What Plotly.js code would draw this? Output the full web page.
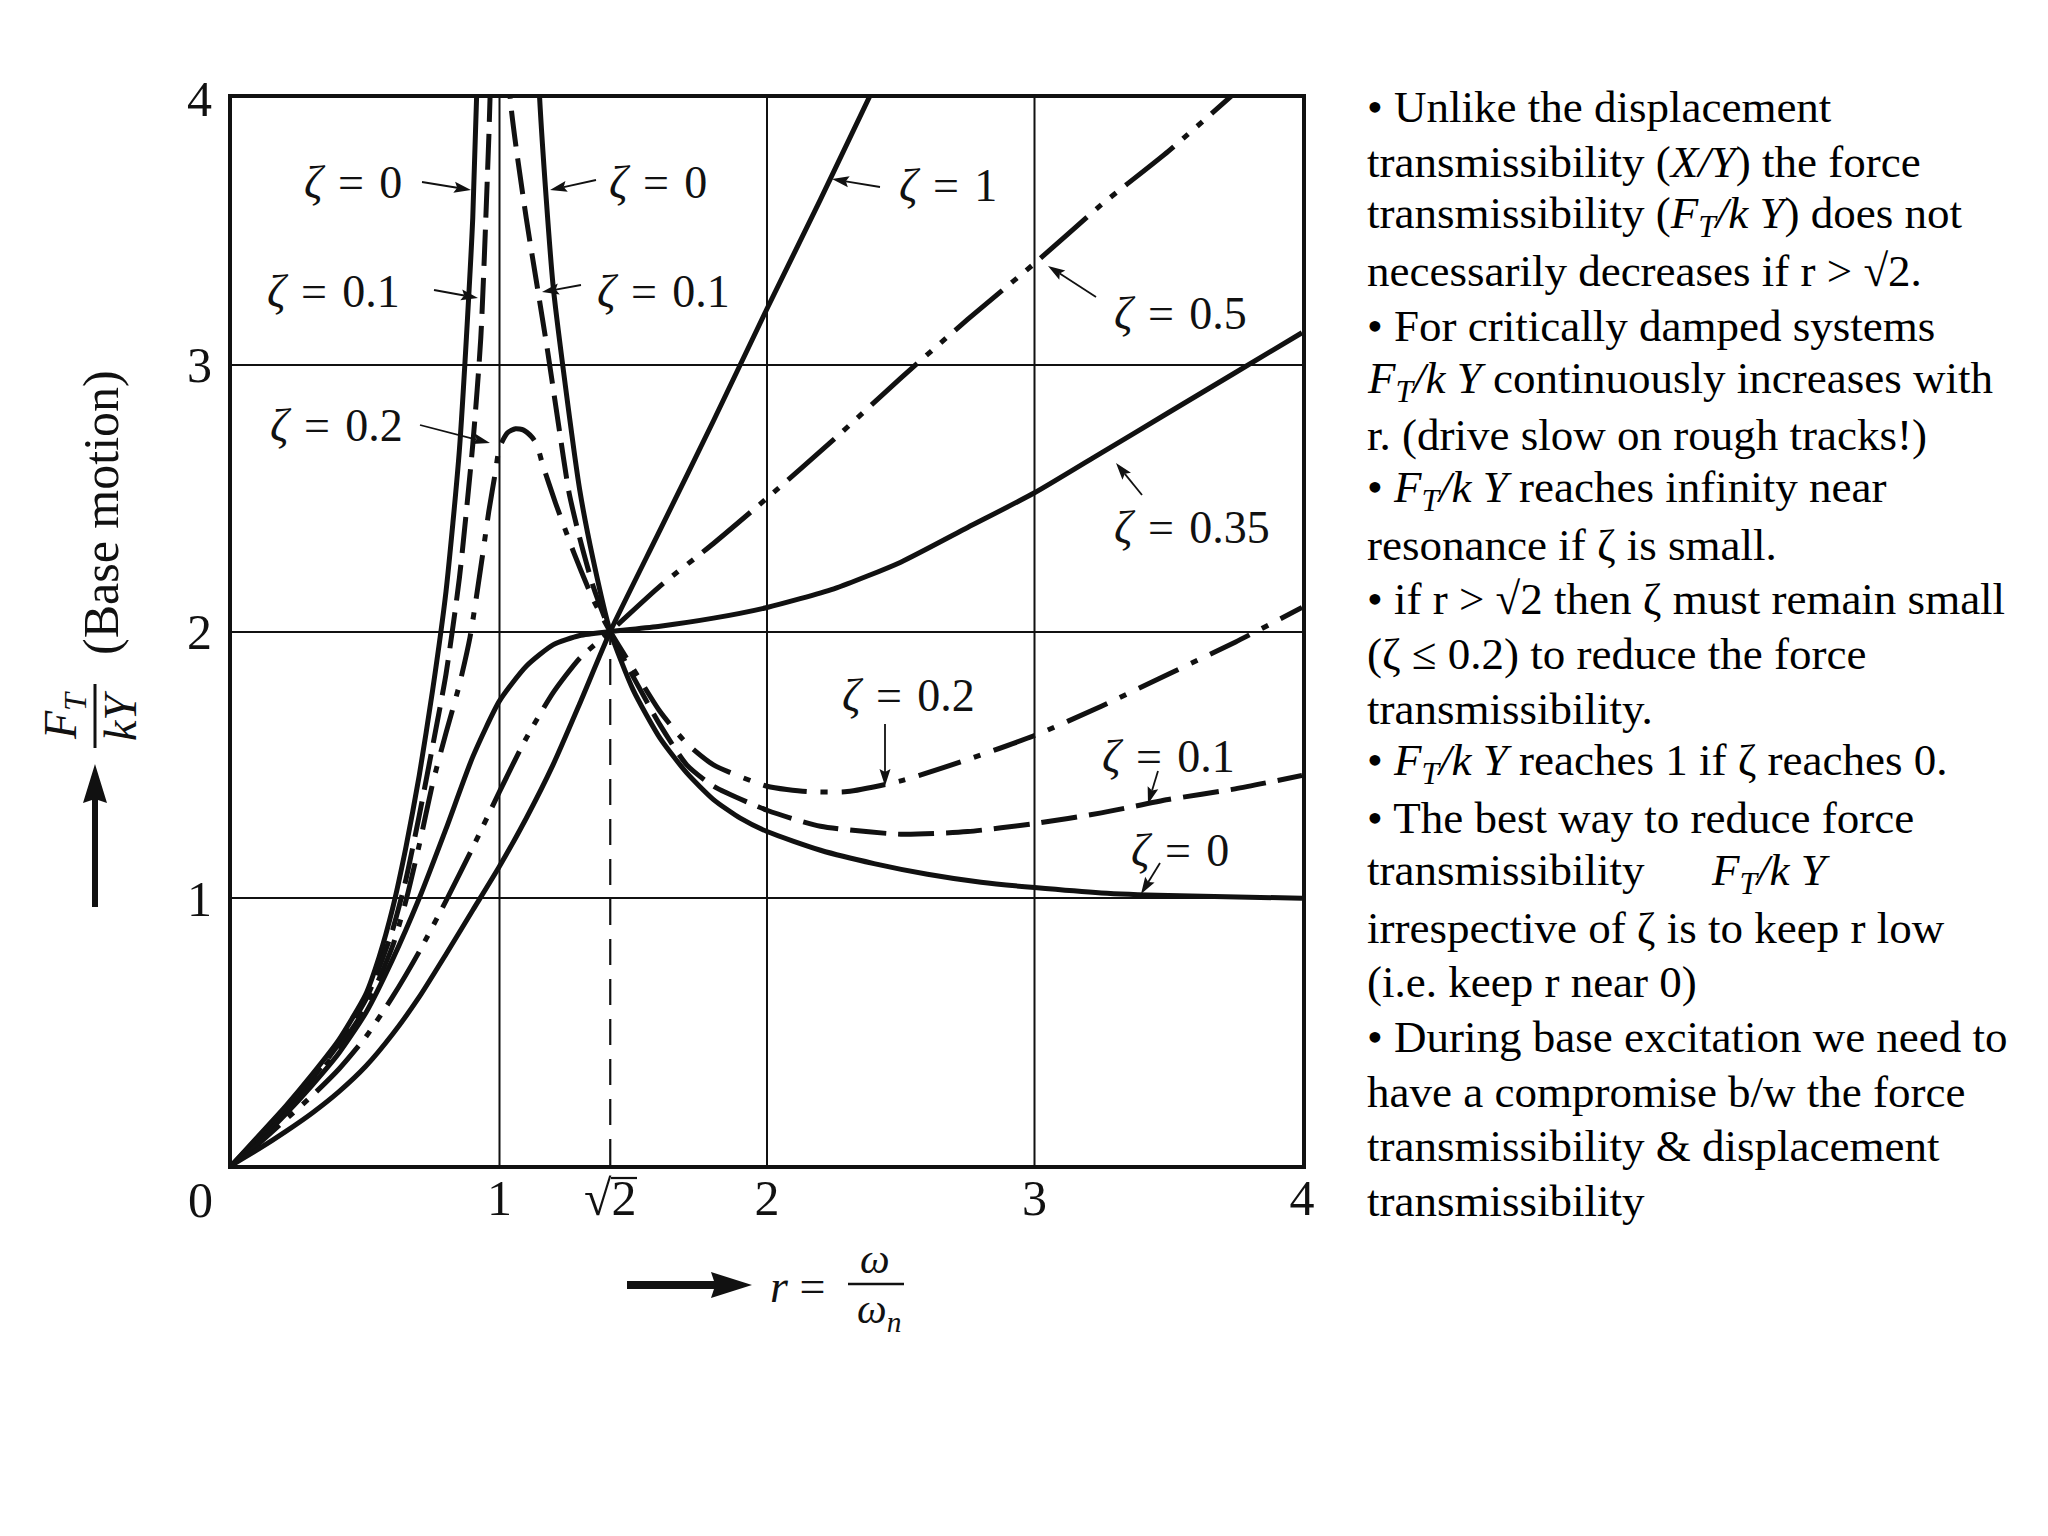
<!DOCTYPE html>
<html>
<head>
<meta charset="utf-8">
<script src="https://cdn.plot.ly/plotly-3.0.1.min.js"></script>
<style>html,body{margin:0;padding:0;background:#ffffff;}</style>
</head>
<body>
<div id="chart" style="width:2048px;height:1536px;"></div>
<script>
// ---------- data ----------
const zeta0_r  = [0, 0.1, 0.2, 0.3, 0.4, 0.5, 0.55, 0.6, 0.65, 0.7, 0.75, 0.8, 0.85, 0.9, 0.93, 0.95,
                  null,
                  1.08, 1.15, 1.2, 1.24, 1.3, 1.35, 1.414, 1.5, 1.6, 1.7, 1.8, 1.9, 2.0, 2.2, 2.4, 2.6, 2.8,
                  3.0, 3.25, 3.5, 4.0];
const zeta0_y  = [0, 0.11, 0.22, 0.34, 0.47, 0.64, 0.78, 0.96, 1.19, 1.46, 1.78, 2.15, 2.68, 3.55, 4.6, 6.0,
                  null,
                  6.0, 4.0, 3.3, 2.97, 2.53, 2.27, 2.0, 1.78, 1.6, 1.47, 1.37, 1.3, 1.25, 1.18, 1.13, 1.09, 1.06,
                  1.04, 1.02, 1.01, 1.0];

const zeta01_r = [0, 0.1, 0.2, 0.3, 0.4, 0.5, 0.55, 0.6, 0.65, 0.7, 0.75, 0.8, 0.85, 0.9, 0.93, 0.96, 1.0,
                  1.04, 1.1, 1.14, 1.18, 1.22, 1.26, 1.3, 1.35, 1.414, 1.5, 1.6, 1.7, 1.8, 2.0, 2.2, 2.5, 2.75,
                  3.0, 3.25, 3.5, 3.75, 4.0];
const zeta01_y = [0, 0.105, 0.21, 0.325, 0.455, 0.62, 0.74, 0.88, 1.07, 1.31, 1.57, 1.84, 2.2, 2.7, 3.1, 3.85, 5.1,
                  4.0, 3.55, 3.3, 3.05, 2.78, 2.52, 2.35, 2.17, 2.0, 1.83, 1.65, 1.5, 1.42, 1.33, 1.27, 1.24, 1.25,
                  1.28, 1.32, 1.37, 1.41, 1.46];

const zeta02_r = [0, 0.1, 0.2, 0.3, 0.4, 0.5, 0.6, 0.65, 0.7, 0.75, 0.8, 0.85, 0.89, 0.93, 0.96, 0.985, 1.0,
                  1.03, 1.06, 1.09, 1.12, 1.14, 1.16, 1.21, 1.28, 1.35, 1.414, 1.5, 1.6, 1.7, 1.8, 2.0, 2.15,
                  2.3, 2.5, 2.75, 3.0, 3.25, 3.5, 3.75, 4.0];
const zeta02_y = [0, 0.1, 0.2, 0.31, 0.44, 0.59, 0.82, 0.99, 1.2, 1.43, 1.62, 1.8, 1.98, 2.24, 2.45, 2.6, 2.69,
                  2.745, 2.76, 2.755, 2.73, 2.7, 2.63, 2.48, 2.29, 2.12, 2.0, 1.86, 1.7, 1.58, 1.5, 1.42, 1.4,
                  1.4, 1.44, 1.52, 1.61, 1.72, 1.84, 1.96, 2.09];

const zeta035_r = [0, 0.1, 0.2, 0.3, 0.4, 0.5, 0.6, 0.7, 0.8, 0.9, 1.0, 1.1, 1.2, 1.3, 1.414, 1.6, 1.8, 2.0,
                   2.25, 2.5, 2.75, 3.0, 3.25, 3.5, 3.75, 4.0];
const zeta035_y = [0, 0.09, 0.19, 0.3, 0.42, 0.57, 0.77, 1.0, 1.26, 1.53, 1.74, 1.87, 1.95, 1.985, 2.0, 2.02,
                   2.05, 2.09, 2.16, 2.26, 2.39, 2.52, 2.67, 2.82, 2.97, 3.12];

const zeta05_r = [0, 0.1, 0.2, 0.3, 0.4, 0.5, 0.6, 0.7, 0.8, 0.9, 1.0, 1.1, 1.2, 1.3, 1.414, 1.6, 1.8, 2.0,
                  2.25, 2.5, 2.75, 3.0, 3.25, 3.5, 3.75];
const zeta05_y = [0, 0.08, 0.17, 0.26, 0.36, 0.48, 0.63, 0.8, 0.99, 1.19, 1.4, 1.6, 1.77, 1.9, 2.0, 2.17,
                  2.33, 2.5, 2.72, 2.95, 3.17, 3.38, 3.6, 3.8, 4.02];

const zeta1_r = [0, 0.1, 0.2, 0.3, 0.4, 0.5, 0.6, 0.7, 0.8, 0.9, 1.0, 1.1, 1.2, 1.3, 1.414, 1.6, 1.8, 2.0, 2.2, 2.4];
const zeta1_y = [0, 0.06, 0.125, 0.195, 0.275, 0.37, 0.49, 0.63, 0.79, 0.955, 1.12, 1.3, 1.5, 1.73, 2.0, 2.38,
                 2.79, 3.21, 3.62, 4.04];

const sqrt2Line_r = [1.414, 1.414];
const sqrt2Line_y = [0, 2];

const xTickVals = [1, 1.414, 2, 3, 4];
const xTickText = ['1', '√2', '2', '3', '4'];
const yTickVals = [1, 2, 3, 4];
const yTickText = ['1', '2', '3', '4'];
const xGridVals = [1, 2, 3];

// curve labels (ζ values), as placed in the picture
const curveLabels = ['0', '0', '0.1', '0.1', '0.2', '1', '0.5', '0.35', '0.2', '0.1', '0'];

const notes = [
  '• Unlike the displacement',
  'transmissibility (<i>X/Y</i>) the force',
  'transmissibility (<i>F<sub>T</sub>/k Y</i>) does not',
  'necessarily decreases if r > √2.',
  '• For critically damped systems',
  '<i>F<sub>T</sub>/k Y</i> continuously increases with',
  'r. (drive slow on rough tracks!)',
  '• <i>F<sub>T</sub>/k Y</i> reaches infinity near',
  'resonance if ζ is small.',
  '• if r > √2 then ζ must remain small',
  '(ζ ≤ 0.2) to reduce the force',
  'transmissibility.',
  '• <i>F<sub>T</sub>/k Y</i> reaches 1 if ζ reaches 0.',
  '• The best way to reduce force',
  'transmissibility\u00a0\u00a0\u00a0\u00a0\u00a0 <i>F<sub>T</sub>/k Y</i>',
  'irrespective of ζ is to keep r low',
  '(i.e. keep r near 0)',
  '• During base excitation we need to',
  'have a compromise b/w the force',
  'transmissibility & displacement',
  'transmissibility'
];

// ---------- layout helpers (pixel -> paper) ----------
const L = 232, R = 1302, T = 98, B = 1165;
const PX = X => (X - L) / (R - L);
const PY = Y => (B - Y) / (B - T);
const P = (X, Y) => PX(X).toFixed(5) + ',' + PY(Y).toFixed(5);
const FONT = '"Liberation Serif", "Times New Roman", serif';
const INK = '#111111';

function curve(r, y, dash) {
  return {
    x: r, y: y, type: 'scatter', mode: 'lines', hoverinfo: 'skip', connectgaps: false,
    line: {color: INK, width: 5, dash: dash, shape: 'spline', smoothing: 0.6}
  };
}

const traces = [
  curve(zeta0_r, zeta0_y, 'solid'),
  curve(zeta01_r, zeta01_y, '36px,12px'),
  curve(zeta02_r, zeta02_y, '44px,14px,7px,14px'),
  curve(zeta035_r, zeta035_y, 'solid'),
  curve(zeta05_r, zeta05_y, '62px,12px,7px,12px,7px,12px'),
  curve(zeta1_r, zeta1_y, 'solid'),
  {x: sqrt2Line_r, y: sqrt2Line_y, type: 'scatter', mode: 'lines', hoverinfo: 'skip',
   line: {color: INK, width: 2.2, dash: '26px,14px'}}
];

// label placement: [text centre X, Y, arrow tail X, Y, arrow tip X, Y]
const labelPos = [
  [353, 183, 422, 182, 471, 190],
  [658, 183, 596, 180, 550, 190],
  [333, 292, 434, 290, 478, 298],
  [663, 292, 581, 285, 542, 292],
  [336, 425, 420, 425, 490, 443],
  [948, 185, 880, 187, 832, 179],
  [1180, 313, 1096, 297, 1048, 266],
  [1192, 527, 1142, 495, 1116, 463],
  [908, 695, 885, 724, 885, 786],
  [1168, 757, 1158, 771, 1148, 804],
  [1180, 850, 1160, 863, 1141, 894]
];

const annotations = [];
const shapes = [];

curveLabels.forEach((z, i) => {
  const p = labelPos[i];
  annotations.push({
    xref: 'paper', yref: 'paper', x: PX(p[0]), y: PY(p[1]), xanchor: 'center', yanchor: 'middle',
    text: '<i>ζ</i>\u2004=\u2004' + z, showarrow: false,
    font: {family: FONT, size: 46, color: INK}
  });
  // pointer: thin line plus a filled arrow head
  const tx = p[2], ty = p[3], hx = p[4], hy = p[5];
  const len = Math.hypot(hx - tx, hy - ty), dx = (hx - tx) / len, dy = (hy - ty) / len;
  const nx = -dy, ny = dx, hl = 17, hw = 5.5;
  const bx = hx - hl * dx, by = hy - hl * dy;
  shapes.push({type: 'line', xref: 'paper', yref: 'paper', x0: PX(tx), y0: PY(ty), x1: PX(bx + 3 * dx), y1: PY(by + 3 * dy),
    line: {color: INK, width: 1.8}});
  shapes.push({type: 'path', xref: 'paper', yref: 'paper', fillcolor: INK, line: {width: 0},
    path: 'M' + P(hx, hy) + 'L' + P(bx + hw * nx, by + hw * ny) + 'L' + P(bx + 3 * dx, by + 3 * dy) +
          'L' + P(bx - hw * nx, by - hw * ny) + 'Z'});
});

// origin label "0"
annotations.push({xref: 'paper', yref: 'paper', x: PX(200), y: PY(1200), text: '0', showarrow: false,
  xanchor: 'center', yanchor: 'middle', font: {family: FONT, size: 50, color: INK}});

// x-axis title: r = ω / ω_n
annotations.push({xref: 'paper', yref: 'paper', x: PX(797), y: PY(1286), text: '<i>r</i> =', showarrow: false,
  xanchor: 'center', yanchor: 'middle', font: {family: FONT, size: 46, color: INK}});
annotations.push({xref: 'paper', yref: 'paper', x: PX(875), y: PY(1259), text: '<i>ω</i>', showarrow: false,
  xanchor: 'center', yanchor: 'middle', font: {family: FONT, size: 42, color: INK}});
annotations.push({xref: 'paper', yref: 'paper', x: PX(879), y: PY(1312), text: '<i>ω<sub>n</sub></i>', showarrow: false,
  xanchor: 'center', yanchor: 'middle', font: {family: FONT, size: 42, color: INK}});

// y-axis title: F_T / kY (Base motion), rotated
annotations.push({xref: 'paper', yref: 'paper', x: PX(101), y: PY(513), text: '(Base motion)', showarrow: false,
  textangle: -90, xanchor: 'center', yanchor: 'middle', font: {family: FONT, size: 50, color: INK}});
annotations.push({xref: 'paper', yref: 'paper', x: PX(64), y: PY(716), text: '<i>F<sub>T</sub></i>', showarrow: false,
  textangle: -90, xanchor: 'center', yanchor: 'middle', font: {family: FONT, size: 46, color: INK}});
annotations.push({xref: 'paper', yref: 'paper', x: PX(121), y: PY(716), text: '<i>kY</i>', showarrow: false,
  textangle: -90, xanchor: 'center', yanchor: 'middle', font: {family: FONT, size: 46, color: INK}});

// explanatory notes on the right
notes.forEach((line, i) => {
  annotations.push({xref: 'paper', yref: 'paper', x: PX(1365), y: PY(107 + 54.7 * i), text: line,
    showarrow: false, xanchor: 'left', yanchor: 'middle', align: 'left',
    font: {family: FONT, size: 45, color: '#000000'}});
});

xGridVals.forEach(v => shapes.push({type: 'line', xref: 'x', yref: 'paper', x0: v, x1: v, y0: 0, y1: 1,
  line: {color: INK, width: 2}, layer: 'below'}));
// vinculum over the "2" of the √2 tick label
shapes.push({type: 'line', xref: 'paper', yref: 'paper', x0: PX(611), x1: PX(637), y0: PY(1178), y1: PY(1178),
  line: {color: INK, width: 2.2}});
// fraction bars
shapes.push({type: 'line', xref: 'paper', yref: 'paper', x0: PX(848), x1: PX(904), y0: PY(1284), y1: PY(1284),
  line: {color: INK, width: 2.5}});
shapes.push({type: 'line', xref: 'paper', yref: 'paper', x0: PX(95), x1: PX(95), y0: PY(684), y1: PY(748),
  line: {color: INK, width: 3}});
// x-title arrow
shapes.push({type: 'path', xref: 'paper', yref: 'paper', fillcolor: INK, line: {width: 0},
  path: 'M' + P(627, 1281) + 'L' + P(714, 1281) + 'L' + P(711, 1272) + 'L' + P(752, 1285) + 'L' + P(711, 1298) +
        'L' + P(714, 1289) + 'L' + P(627, 1289) + 'Z'});
// y-title arrow
shapes.push({type: 'path', xref: 'paper', yref: 'paper', fillcolor: INK, line: {width: 0},
  path: 'M' + P(92, 907) + 'L' + P(92, 800) + 'L' + P(83, 803) + 'L' + P(95, 764) + 'L' + P(107, 803) +
        'L' + P(98, 800) + 'L' + P(98, 907) + 'Z'});

const layout = {
  width: 2048, height: 1536,
  margin: {l: L, r: 2048 - R, t: T, b: 1536 - B, pad: 0},
  paper_bgcolor: '#ffffff', plot_bgcolor: '#ffffff',
  showlegend: false, hovermode: false,
  font: {family: FONT, color: INK},
  xaxis: {
    range: [0, 4], tickvals: xTickVals, ticktext: xTickText, showgrid: false, zeroline: false,
    showline: true, mirror: true, linecolor: INK, linewidth: 4, ticks: '', ticklabelstandoff: -14,
    tickfont: {family: FONT, size: 50, color: INK}, fixedrange: true
  },
  yaxis: {
    range: [0, 4], tickvals: yTickVals, ticktext: yTickText, showgrid: true, gridcolor: INK, gridwidth: 2,
    zeroline: false, showline: true, mirror: true, linecolor: INK, linewidth: 4, ticks: '',
    ticklabelstandoff: 6, tickfont: {family: FONT, size: 50, color: INK}, fixedrange: true
  },
  annotations: annotations,
  shapes: shapes
};

Plotly.newPlot('chart', traces, layout, {staticPlot: true, displayModeBar: false});
</script>
</body>
</html>
